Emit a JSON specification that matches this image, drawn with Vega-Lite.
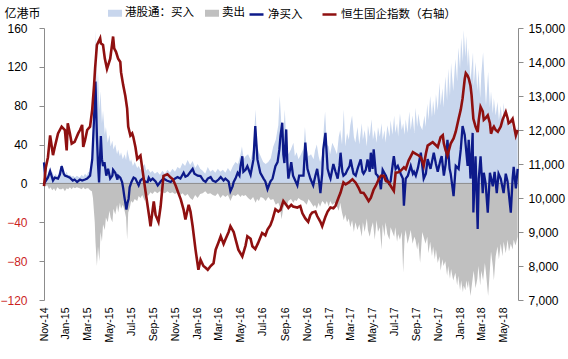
{
"$schema": "https://vega.github.io/schema/vega-lite/v6.json",
"width": 474, "height": 272,
"autosize": {"type": "none"},
"padding": {"left": 44, "top": 28, "right": 50, "bottom": 59},
"background": "white",
"config": {"font": "Liberation Sans, Noto Sans CJK SC", "view": {"stroke": null}, "axis": {"grid": false, "labelOverlap": false}},
"datasets": {
"flow": [
{"d":"2014-11-17","b":22,"s":-2},{"d":"2014-11-21","b":9,"s":-3},{"d":"2014-11-26","b":7,"s":-2},{"d":"2014-12-01","b":14,"s":-6},{"d":"2014-12-05","b":8,"s":-4},{"d":"2014-12-10","b":12,"s":-7},{"d":"2014-12-15","b":7,"s":-5},{"d":"2014-12-19","b":10,"s":-8},{"d":"2014-12-24","b":7,"s":-4},{"d":"2014-12-30","b":13,"s":-6},
{"d":"2015-01-05","b":20,"s":-6},{"d":"2015-01-09","b":11,"s":-5},{"d":"2015-01-14","b":9,"s":-8},{"d":"2015-01-19","b":12,"s":-5},{"d":"2015-01-23","b":8,"s":-6},{"d":"2015-01-28","b":9,"s":-4},{"d":"2015-02-02","b":7,"s":-6},{"d":"2015-02-06","b":8,"s":-4},{"d":"2015-02-11","b":6,"s":-5},{"d":"2015-02-16","b":8,"s":-4},{"d":"2015-02-24","b":6,"s":-5},{"d":"2015-03-02","b":9,"s":-6},{"d":"2015-03-06","b":7,"s":-4},{"d":"2015-03-11","b":10,"s":-6},{"d":"2015-03-16","b":8,"s":-5},{"d":"2015-03-20","b":12,"s":-5},{"d":"2015-03-25","b":11,"s":-7},{"d":"2015-03-30","b":22,"s":-8},
{"d":"2015-04-02","b":55,"s":-15},{"d":"2015-04-07","b":110,"s":-40},{"d":"2015-04-09","b":158,"s":-60},{"d":"2015-04-13","b":95,"s":-85},{"d":"2015-04-16","b":115,"s":-65},{"d":"2015-04-20","b":75,"s":-80},{"d":"2015-04-23","b":95,"s":-50},{"d":"2015-04-27","b":62,"s":-60},{"d":"2015-04-30","b":75,"s":-42},{"d":"2015-05-05","b":50,"s":-48},{"d":"2015-05-08","b":58,"s":-35},{"d":"2015-05-13","b":42,"s":-40},{"d":"2015-05-18","b":50,"s":-28},{"d":"2015-05-21","b":38,"s":-35},{"d":"2015-05-26","b":44,"s":-40},{"d":"2015-05-29","b":35,"s":-26},
{"d":"2015-06-03","b":40,"s":-32},{"d":"2015-06-08","b":30,"s":-22},{"d":"2015-06-11","b":35,"s":-30},{"d":"2015-06-16","b":28,"s":-20},{"d":"2015-06-19","b":32,"s":-26},{"d":"2015-06-24","b":25,"s":-22},{"d":"2015-06-29","b":30,"s":-28},{"d":"2015-07-03","b":24,"s":-35},{"d":"2015-07-06","b":35,"s":-58},{"d":"2015-07-09","b":30,"s":-30},{"d":"2015-07-14","b":22,"s":-24},{"d":"2015-07-17","b":25,"s":-18},{"d":"2015-07-22","b":18,"s":-20},{"d":"2015-07-27","b":22,"s":-16},
{"d":"2015-08-03","b":16,"s":-18},{"d":"2015-08-07","b":18,"s":-13},{"d":"2015-08-12","b":14,"s":-15},{"d":"2015-08-17","b":17,"s":-12},{"d":"2015-08-24","b":20,"s":-18},{"d":"2015-08-28","b":13,"s":-11},{"d":"2015-09-02","b":15,"s":-13},{"d":"2015-09-09","b":11,"s":-9},{"d":"2015-09-14","b":13,"s":-11},{"d":"2015-09-21","b":10,"s":-8},{"d":"2015-09-28","b":12,"s":-10},{"d":"2015-10-05","b":9,"s":-8},{"d":"2015-10-12","b":13,"s":-9},{"d":"2015-10-19","b":10,"s":-10},{"d":"2015-10-26","b":14,"s":-8},
{"d":"2015-11-02","b":11,"s":-10},{"d":"2015-11-09","b":15,"s":-9},{"d":"2015-11-16","b":12,"s":-11},{"d":"2015-11-23","b":17,"s":-9},{"d":"2015-11-30","b":15,"s":-12},{"d":"2015-12-07","b":21,"s":-10},{"d":"2015-12-14","b":18,"s":-13},{"d":"2015-12-21","b":24,"s":-11},{"d":"2015-12-28","b":19,"s":-15},
{"d":"2016-01-04","b":23,"s":-17},{"d":"2016-01-11","b":16,"s":-12},{"d":"2016-01-18","b":20,"s":-15},{"d":"2016-01-25","b":15,"s":-11},{"d":"2016-02-01","b":13,"s":-10},{"d":"2016-02-08","b":10,"s":-8},{"d":"2016-02-15","b":17,"s":-11},{"d":"2016-02-22","b":12,"s":-10},{"d":"2016-02-29","b":14,"s":-12},{"d":"2016-03-07","b":11,"s":-13},{"d":"2016-03-14","b":15,"s":-10},{"d":"2016-03-21","b":12,"s":-15},{"d":"2016-03-28","b":14,"s":-12},{"d":"2016-04-04","b":11,"s":-14},{"d":"2016-04-11","b":16,"s":-12},{"d":"2016-04-18","b":12,"s":-18},{"d":"2016-04-25","b":18,"s":-12},
{"d":"2016-05-02","b":22,"s":-13},{"d":"2016-05-09","b":20,"s":-11},{"d":"2016-05-16","b":30,"s":-14},{"d":"2016-05-20","b":38,"s":-12},{"d":"2016-05-25","b":25,"s":-13},{"d":"2016-05-30","b":28,"s":-12},{"d":"2016-06-06","b":30,"s":-15},{"d":"2016-06-13","b":24,"s":-17},{"d":"2016-06-20","b":35,"s":-14},{"d":"2016-06-27","b":76,"s":-20},{"d":"2016-07-01","b":40,"s":-16},{"d":"2016-07-06","b":32,"s":-18},{"d":"2016-07-11","b":28,"s":-14},{"d":"2016-07-18","b":22,"s":-15},{"d":"2016-07-25","b":20,"s":-18},
{"d":"2016-08-01","b":22,"s":-14},{"d":"2016-08-08","b":26,"s":-17},{"d":"2016-08-15","b":38,"s":-16},{"d":"2016-08-22","b":45,"s":-22},{"d":"2016-08-29","b":60,"s":-20},{"d":"2016-09-02","b":90,"s":-24},{"d":"2016-09-07","b":58,"s":-37},{"d":"2016-09-12","b":50,"s":-25},{"d":"2016-09-16","b":76,"s":-22},{"d":"2016-09-21","b":38,"s":-24},{"d":"2016-09-26","b":30,"s":-18},{"d":"2016-10-03","b":35,"s":-16},{"d":"2016-10-10","b":42,"s":-20},{"d":"2016-10-14","b":28,"s":-17},{"d":"2016-10-19","b":32,"s":-18},{"d":"2016-10-24","b":25,"s":-15},{"d":"2016-10-31","b":30,"s":-17},
{"d":"2016-11-07","b":36,"s":-18},{"d":"2016-11-11","b":58,"s":-20},{"d":"2016-11-16","b":35,"s":-22},{"d":"2016-11-21","b":28,"s":-16},{"d":"2016-11-28","b":30,"s":-20},{"d":"2016-12-05","b":25,"s":-24},{"d":"2016-12-09","b":34,"s":-22},{"d":"2016-12-14","b":40,"s":-26},{"d":"2016-12-19","b":28,"s":-20},{"d":"2016-12-23","b":22,"s":-24},{"d":"2016-12-29","b":30,"s":-18},
{"d":"2017-01-03","b":60,"s":-20},{"d":"2017-01-06","b":74,"s":-22},{"d":"2017-01-11","b":40,"s":-18},{"d":"2017-01-16","b":38,"s":-24},{"d":"2017-01-20","b":30,"s":-18},{"d":"2017-01-26","b":42,"s":-22},{"d":"2017-02-02","b":36,"s":-20},{"d":"2017-02-08","b":30,"s":-24},{"d":"2017-02-13","b":48,"s":-28},{"d":"2017-02-17","b":55,"s":-20},{"d":"2017-02-22","b":40,"s":-30},{"d":"2017-02-27","b":76,"s":-38},{"d":"2017-03-03","b":38,"s":-32},{"d":"2017-03-08","b":52,"s":-40},{"d":"2017-03-13","b":45,"s":-36},{"d":"2017-03-17","b":60,"s":-45},{"d":"2017-03-22","b":70,"s":-38},{"d":"2017-03-27","b":48,"s":-50},{"d":"2017-03-31","b":42,"s":-40},
{"d":"2017-04-06","b":58,"s":-48},{"d":"2017-04-11","b":40,"s":-42},{"d":"2017-04-18","b":62,"s":-55},{"d":"2017-04-21","b":45,"s":-40},{"d":"2017-04-26","b":55,"s":-50},{"d":"2017-05-02","b":38,"s":-36},{"d":"2017-05-05","b":60,"s":-48},{"d":"2017-05-10","b":48,"s":-55},{"d":"2017-05-15","b":66,"s":-45},{"d":"2017-05-19","b":45,"s":-40},{"d":"2017-05-24","b":55,"s":-58},{"d":"2017-05-29","b":42,"s":-38},
{"d":"2017-06-02","b":58,"s":-50},{"d":"2017-06-07","b":48,"s":-45},{"d":"2017-06-12","b":62,"s":-68},{"d":"2017-06-15","b":45,"s":-42},{"d":"2017-06-20","b":55,"s":-55},{"d":"2017-06-23","b":42,"s":-40},{"d":"2017-06-28","b":60,"s":-52},{"d":"2017-07-04","b":48,"s":-58},{"d":"2017-07-07","b":65,"s":-45},{"d":"2017-07-12","b":50,"s":-50},{"d":"2017-07-17","b":70,"s":-55},{"d":"2017-07-20","b":52,"s":-45},{"d":"2017-07-25","b":62,"s":-60},{"d":"2017-07-28","b":48,"s":-52},
{"d":"2017-08-02","b":72,"s":-58},{"d":"2017-08-07","b":55,"s":-50},{"d":"2017-08-11","b":62,"s":-92},{"d":"2017-08-15","b":50,"s":-55},{"d":"2017-08-18","b":66,"s":-48},{"d":"2017-08-23","b":52,"s":-62},{"d":"2017-08-28","b":74,"s":-55},{"d":"2017-09-01","b":55,"s":-48},{"d":"2017-09-06","b":70,"s":-62},{"d":"2017-09-11","b":52,"s":-55},{"d":"2017-09-14","b":78,"s":-58},{"d":"2017-09-19","b":58,"s":-68},{"d":"2017-09-22","b":72,"s":-60},{"d":"2017-09-27","b":60,"s":-82},
{"d":"2017-10-03","b":55,"s":-50},{"d":"2017-10-09","b":70,"s":-58},{"d":"2017-10-12","b":58,"s":-62},{"d":"2017-10-17","b":82,"s":-55},{"d":"2017-10-20","b":65,"s":-72},{"d":"2017-10-25","b":90,"s":-60},{"d":"2017-10-30","b":68,"s":-75},{"d":"2017-11-02","b":85,"s":-65},{"d":"2017-11-07","b":70,"s":-78},{"d":"2017-11-10","b":92,"s":-68},{"d":"2017-11-15","b":75,"s":-82},{"d":"2017-11-20","b":104,"s":-75},{"d":"2017-11-23","b":80,"s":-90},{"d":"2017-11-28","b":98,"s":-78},
{"d":"2017-12-01","b":78,"s":-85},{"d":"2017-12-06","b":110,"s":-80},{"d":"2017-12-11","b":85,"s":-95},{"d":"2017-12-14","b":118,"s":-85},{"d":"2017-12-19","b":90,"s":-98},{"d":"2017-12-22","b":124,"s":-88},{"d":"2017-12-28","b":95,"s":-100},
{"d":"2018-01-03","b":128,"s":-92},{"d":"2018-01-08","b":105,"s":-105},{"d":"2018-01-11","b":140,"s":-95},{"d":"2018-01-16","b":118,"s":-110},{"d":"2018-01-19","b":150,"s":-100},{"d":"2018-01-24","b":125,"s":-112},{"d":"2018-01-26","b":158,"s":-105},{"d":"2018-01-31","b":130,"s":-110},{"d":"2018-02-02","b":152,"s":-100},{"d":"2018-02-07","b":120,"s":-108},{"d":"2018-02-09","b":140,"s":-100},{"d":"2018-02-14","b":105,"s":-116},{"d":"2018-02-21","b":135,"s":-95},{"d":"2018-02-23","b":100,"s":-90},{"d":"2018-02-28","b":125,"s":-108},
{"d":"2018-03-05","b":95,"s":-98},{"d":"2018-03-08","b":117,"s":-85},{"d":"2018-03-13","b":88,"s":-105},{"d":"2018-03-16","b":112,"s":-90},{"d":"2018-03-21","b":135,"s":-100},{"d":"2018-03-26","b":100,"s":-82},{"d":"2018-03-29","b":80,"s":-92},{"d":"2018-04-04","b":115,"s":-116},{"d":"2018-04-09","b":78,"s":-88},{"d":"2018-04-12","b":95,"s":-70},{"d":"2018-04-17","b":72,"s":-85},{"d":"2018-04-20","b":88,"s":-100},{"d":"2018-04-25","b":70,"s":-75},{"d":"2018-04-30","b":84,"s":-65},
{"d":"2018-05-04","b":65,"s":-78},{"d":"2018-05-09","b":80,"s":-62},{"d":"2018-05-14","b":62,"s":-75},{"d":"2018-05-17","b":83,"s":-60},{"d":"2018-05-23","b":60,"s":-72},{"d":"2018-05-28","b":70,"s":-58},{"d":"2018-06-01","b":58,"s":-70},{"d":"2018-06-06","b":68,"s":-62},{"d":"2018-06-11","b":55,"s":-68},{"d":"2018-06-14","b":62,"s":-58},{"d":"2018-06-19","b":52,"s":-64},{"d":"2018-06-25","b":58,"s":-55}
],
"net": [
{"d":"2014-11-17","v":21.6},{"d":"2014-11-21","v":2},{"d":"2014-11-28","v":6},{"d":"2014-12-04","v":12.7},{"d":"2014-12-12","v":3},{"d":"2014-12-17","v":6},{"d":"2014-12-26","v":5},{"d":"2014-12-31","v":9},{"d":"2015-01-05","v":17.8},{"d":"2015-01-11","v":10},{"d":"2015-01-14","v":8},{"d":"2015-01-22","v":7},{"d":"2015-01-28","v":6},{"d":"2015-02-05","v":3},{"d":"2015-02-10","v":4},{"d":"2015-02-17","v":1.5},{"d":"2015-02-25","v":4},{"d":"2015-03-03","v":3},{"d":"2015-03-11","v":4},{"d":"2015-03-17","v":5},{"d":"2015-03-25","v":8},{"d":"2015-03-31","v":24.7},{"d":"2015-04-05","v":66},{"d":"2015-04-09","v":105},{"d":"2015-04-13","v":48.7},{"d":"2015-04-16","v":20},{"d":"2015-04-19","v":1},{"d":"2015-04-24","v":48.7},{"d":"2015-04-27","v":25},{"d":"2015-04-30","v":17.8},{"d":"2015-05-04","v":22},{"d":"2015-05-09","v":8},{"d":"2015-05-14","v":15},{"d":"2015-05-20","v":5},{"d":"2015-05-26","v":8},{"d":"2015-05-28","v":14},{"d":"2015-06-03","v":11},{"d":"2015-06-09","v":4},{"d":"2015-06-11","v":8},{"d":"2015-06-17","v":6},{"d":"2015-06-22","v":1.5},{"d":"2015-06-25","v":-5},{"d":"2015-06-28","v":-13},{"d":"2015-07-04","v":-26.8},{"d":"2015-07-07","v":-20},{"d":"2015-07-10","v":-16},{"d":"2015-07-13","v":-4},{"d":"2015-07-18","v":1.5},{"d":"2015-07-24","v":6},{"d":"2015-07-29","v":5},{"d":"2015-08-07","v":-2},{"d":"2015-08-12","v":3},{"d":"2015-08-18","v":5},{"d":"2015-08-26","v":1.5},{"d":"2015-09-01","v":1.5},{"d":"2015-09-04","v":6},{"d":"2015-09-09","v":3},{"d":"2015-09-15","v":5},{"d":"2015-09-23","v":2},{"d":"2015-09-29","v":-2},{"d":"2015-10-07","v":2},{"d":"2015-10-15","v":5},{"d":"2015-10-24","v":3},{"d":"2015-11-04","v":1.5},{"d":"2015-11-12","v":4},{"d":"2015-11-23","v":6.5},{"d":"2015-12-01","v":5},{"d":"2015-12-10","v":11},{"d":"2015-12-15","v":7},{"d":"2015-12-21","v":8},{"d":"2015-12-29","v":12},
{"d":"2016-01-04","v":15},{"d":"2016-01-09","v":10},{"d":"2016-01-18","v":8},{"d":"2016-01-26","v":7.5},{"d":"2016-02-03","v":3},{"d":"2016-02-09","v":1.5},{"d":"2016-02-15","v":5},{"d":"2016-02-23","v":6.5},{"d":"2016-02-29","v":3},{"d":"2016-03-08","v":1.5},{"d":"2016-03-16","v":4},{"d":"2016-03-22","v":6.5},{"d":"2016-03-30","v":3},{"d":"2016-04-04","v":5},{"d":"2016-04-13","v":2},{"d":"2016-04-18","v":-8},{"d":"2016-04-24","v":-3},{"d":"2016-04-27","v":1.5},{"d":"2016-05-02","v":5},{"d":"2016-05-08","v":11},{"d":"2016-05-13","v":8},{"d":"2016-05-16","v":17.8},{"d":"2016-05-21","v":28},{"d":"2016-05-24","v":12},{"d":"2016-05-30","v":14},{"d":"2016-06-04","v":17.8},{"d":"2016-06-13","v":9},{"d":"2016-06-21","v":24.7},{"d":"2016-06-26","v":59},{"d":"2016-07-02","v":24.7},{"d":"2016-07-10","v":11},{"d":"2016-07-19","v":5},{"d":"2016-07-24","v":2},{"d":"2016-07-30","v":-6},{"d":"2016-08-07","v":2},{"d":"2016-08-13","v":5},{"d":"2016-08-21","v":17.8},{"d":"2016-08-27","v":22},{"d":"2016-09-01","v":35},{"d":"2016-09-04","v":48.7},{"d":"2016-09-09","v":62.5},{"d":"2016-09-12","v":30},{"d":"2016-09-15","v":21},{"d":"2016-09-20","v":55.6},{"d":"2016-09-23","v":22},{"d":"2016-09-26","v":5},{"d":"2016-10-01","v":15},{"d":"2016-10-04","v":22},{"d":"2016-10-09","v":8},{"d":"2016-10-15","v":3},{"d":"2016-10-21","v":-2},{"d":"2016-10-26","v":8},{"d":"2016-11-01","v":8},{"d":"2016-11-07","v":8},{"d":"2016-11-12","v":42},{"d":"2016-11-18","v":15},{"d":"2016-11-26","v":5},{"d":"2016-12-04","v":-2},{"d":"2016-12-10","v":8},{"d":"2016-12-15","v":15},{"d":"2016-12-21","v":0},{"d":"2016-12-24","v":-10},{"d":"2016-12-29","v":10},
{"d":"2017-01-01","v":35},{"d":"2017-01-07","v":52},{"d":"2017-01-13","v":15},{"d":"2017-01-18","v":8},{"d":"2017-01-21","v":5},{"d":"2017-01-29","v":20},{"d":"2017-02-04","v":12},{"d":"2017-02-10","v":5},{"d":"2017-02-15","v":18},{"d":"2017-02-18","v":31.6},{"d":"2017-02-23","v":12},{"d":"2017-02-26","v":8},{"d":"2017-03-04","v":10},{"d":"2017-03-09","v":14},{"d":"2017-03-15","v":18},{"d":"2017-03-18","v":24.7},{"d":"2017-03-23","v":15},{"d":"2017-03-26","v":10},{"d":"2017-04-01","v":8},{"d":"2017-04-07","v":16},{"d":"2017-04-15","v":24.7},{"d":"2017-04-20","v":12},{"d":"2017-04-23","v":10},{"d":"2017-04-29","v":14},{"d":"2017-05-04","v":24.7},{"d":"2017-05-10","v":12},{"d":"2017-05-13","v":31.6},{"d":"2017-05-18","v":15},{"d":"2017-05-21","v":35},{"d":"2017-05-27","v":10},{"d":"2017-06-01","v":8},{"d":"2017-06-07","v":2},{"d":"2017-06-10","v":-6},{"d":"2017-06-15","v":14},{"d":"2017-06-21","v":10},{"d":"2017-06-24","v":8},{"d":"2017-07-02","v":0},{"d":"2017-07-07","v":2},{"d":"2017-07-13","v":20},{"d":"2017-07-16","v":28},{"d":"2017-07-21","v":15},{"d":"2017-07-27","v":18},{"d":"2017-08-04","v":10},{"d":"2017-08-10","v":5},{"d":"2017-08-13","v":-23},{"d":"2017-08-18","v":5},{"d":"2017-08-24","v":8},{"d":"2017-09-01","v":18},{"d":"2017-09-07","v":10},{"d":"2017-09-10","v":12},{"d":"2017-09-15","v":8},{"d":"2017-09-21","v":16},{"d":"2017-09-29","v":31.6},{"d":"2017-10-04","v":15},{"d":"2017-10-07","v":5},{"d":"2017-10-13","v":10},{"d":"2017-10-18","v":25},{"d":"2017-10-26","v":15},{"d":"2017-11-04","v":31.6},{"d":"2017-11-10","v":20},{"d":"2017-11-15","v":12},{"d":"2017-11-23","v":24.7},{"d":"2017-11-26","v":28},{"d":"2017-12-02","v":8},{"d":"2017-12-07","v":20},{"d":"2017-12-12","v":45},{"d":"2017-12-18","v":15},{"d":"2017-12-21","v":10},{"d":"2017-12-29","v":-13},
{"d":"2018-01-04","v":18},{"d":"2018-01-12","v":15},{"d":"2018-01-18","v":35},{"d":"2018-01-23","v":59},{"d":"2018-01-29","v":50},{"d":"2018-02-03","v":30},{"d":"2018-02-06","v":18},{"d":"2018-02-09","v":45},{"d":"2018-02-14","v":5},{"d":"2018-02-20","v":52},{"d":"2018-02-22","v":-30},{"d":"2018-02-28","v":28},{"d":"2018-03-06","v":-47},{"d":"2018-03-09","v":5},{"d":"2018-03-14","v":28},{"d":"2018-03-20","v":-10},{"d":"2018-03-23","v":11},{"d":"2018-03-28","v":0},{"d":"2018-04-03","v":-30},{"d":"2018-04-09","v":11},{"d":"2018-04-17","v":-3},{"d":"2018-04-22","v":12},{"d":"2018-04-28","v":-10},{"d":"2018-05-03","v":10},{"d":"2018-05-09","v":5},{"d":"2018-05-17","v":-10},{"d":"2018-05-23","v":10},{"d":"2018-05-28","v":2},{"d":"2018-06-06","v":-30},{"d":"2018-06-11","v":5},{"d":"2018-06-14","v":17},{"d":"2018-06-20","v":-5},{"d":"2018-06-25","v":15}
],
"idx": [
{"d":"2014-11-17","h":10350},{"d":"2014-11-22","h":10900},{"d":"2014-11-28","h":11200},{"d":"2014-12-04","h":11840},{"d":"2014-12-06","h":11700},{"d":"2014-12-12","h":11260},{"d":"2014-12-17","h":11500},{"d":"2014-12-26","h":11900},{"d":"2014-12-31","h":12000},{"d":"2015-01-05","h":12100},{"d":"2015-01-14","h":12000},{"d":"2015-01-19","h":11400},{"d":"2015-01-22","h":12200},{"d":"2015-01-28","h":11900},{"d":"2015-02-02","h":11600},{"d":"2015-02-10","h":11650},{"d":"2015-02-20","h":11900},{"d":"2015-02-25","h":12000},{"d":"2015-03-03","h":12150},{"d":"2015-03-06","h":11500},{"d":"2015-03-11","h":11700},{"d":"2015-03-17","h":12000},{"d":"2015-03-25","h":12100},{"d":"2015-03-31","h":12600},{"d":"2015-04-05","h":13300},{"d":"2015-04-08","h":13815},{"d":"2015-04-13","h":14500},{"d":"2015-04-22","h":14700},{"d":"2015-04-24","h":14550},{"d":"2015-04-30","h":14500},{"d":"2015-05-05","h":14100},{"d":"2015-05-11","h":13800},{"d":"2015-05-20","h":14100},{"d":"2015-05-28","h":14750},{"d":"2015-05-31","h":14400},{"d":"2015-06-05","h":14300},{"d":"2015-06-11","h":14100},{"d":"2015-06-17","h":14000},{"d":"2015-06-19","h":13700},{"d":"2015-06-25","h":13320},{"d":"2015-07-01","h":13000},{"d":"2015-07-06","h":12630},{"d":"2015-07-09","h":12100},{"d":"2015-07-15","h":11840},{"d":"2015-07-20","h":11900},{"d":"2015-07-23","h":11800},{"d":"2015-07-29","h":11500},{"d":"2015-08-03","h":11150},{"d":"2015-08-12","h":11250},{"d":"2015-08-20","h":10650},{"d":"2015-08-26","h":10200},{"d":"2015-09-01","h":9760},{"d":"2015-09-06","h":9400},{"d":"2015-09-09","h":9170},{"d":"2015-09-18","h":9900},{"d":"2015-09-23","h":9500},{"d":"2015-10-01","h":9300},{"d":"2015-10-07","h":9750},{"d":"2015-10-15","h":10650},{"d":"2015-10-26","h":10700},{"d":"2015-11-04","h":10600},{"d":"2015-11-10","h":10550},{"d":"2015-11-18","h":10360},{"d":"2015-11-27","h":10100},{"d":"2015-12-02","h":9960},{"d":"2015-12-10","h":9650},{"d":"2015-12-15","h":9370},{"d":"2015-12-24","h":9800},{"d":"2015-12-29","h":9600},
{"d":"2016-01-04","h":9170},{"d":"2016-01-12","h":8480},{"d":"2016-01-20","h":7890},{"d":"2016-01-26","h":8180},{"d":"2016-02-03","h":8000},{"d":"2016-02-09","h":7950},{"d":"2016-02-15","h":7890},{"d":"2016-02-23","h":8000},{"d":"2016-03-02","h":8080},{"d":"2016-03-08","h":8480},{"d":"2016-03-16","h":8700},{"d":"2016-03-22","h":8875},{"d":"2016-03-30","h":8650},{"d":"2016-04-04","h":8780},{"d":"2016-04-13","h":9000},{"d":"2016-04-18","h":9170},{"d":"2016-04-27","h":9000},{"d":"2016-05-02","h":8800},{"d":"2016-05-10","h":8480},{"d":"2016-05-21","h":8280},{"d":"2016-05-30","h":8600},{"d":"2016-06-04","h":8875},{"d":"2016-06-13","h":8800},{"d":"2016-06-18","h":8580},{"d":"2016-06-26","h":8500},{"d":"2016-07-04","h":8680},{"d":"2016-07-15","h":8970},{"d":"2016-07-24","h":8900},{"d":"2016-07-30","h":9070},{"d":"2016-08-07","h":9200},{"d":"2016-08-13","h":9370},{"d":"2016-08-21","h":9670},{"d":"2016-08-29","h":9600},{"d":"2016-09-04","h":9650},{"d":"2016-09-12","h":9910},{"d":"2016-09-20","h":9800},{"d":"2016-09-26","h":9710},{"d":"2016-10-04","h":9800},{"d":"2016-10-09","h":9750},{"d":"2016-10-21","h":9720},{"d":"2016-10-29","h":9760},{"d":"2016-11-04","h":9550},{"d":"2016-11-12","h":9400},{"d":"2016-11-20","h":9300},{"d":"2016-11-26","h":9500},{"d":"2016-12-01","h":9570},{"d":"2016-12-10","h":9600},{"d":"2016-12-15","h":9470},{"d":"2016-12-24","h":9300},{"d":"2016-12-29","h":9170},
{"d":"2017-01-07","h":9450},{"d":"2017-01-13","h":9600},{"d":"2017-01-21","h":9720},{"d":"2017-01-29","h":9700},{"d":"2017-02-04","h":9770},{"d":"2017-02-12","h":10000},{"d":"2017-02-18","h":10160},{"d":"2017-02-26","h":10460},{"d":"2017-03-04","h":10400},{"d":"2017-03-12","h":10450},{"d":"2017-03-23","h":10550},{"d":"2017-04-01","h":10450},{"d":"2017-04-09","h":10300},{"d":"2017-04-15","h":10160},{"d":"2017-04-23","h":10150},{"d":"2017-04-29","h":10050},{"d":"2017-05-07","h":9910},{"d":"2017-05-13","h":10000},{"d":"2017-05-21","h":10250},{"d":"2017-05-27","h":10360},{"d":"2017-06-04","h":10550},{"d":"2017-06-10","h":10650},{"d":"2017-06-18","h":10650},{"d":"2017-06-24","h":10500},{"d":"2017-07-02","h":10460},{"d":"2017-07-07","h":10360},{"d":"2017-07-16","h":10210},{"d":"2017-07-21","h":10750},{"d":"2017-07-27","h":10750},{"d":"2017-08-04","h":10800},{"d":"2017-08-13","h":10900},{"d":"2017-08-18","h":10850},{"d":"2017-08-26","h":11100},{"d":"2017-09-07","h":11350},{"d":"2017-09-15","h":11300},{"d":"2017-09-23","h":11250},{"d":"2017-09-29","h":11200},{"d":"2017-10-07","h":10950},{"d":"2017-10-13","h":11300},{"d":"2017-10-18","h":11540},{"d":"2017-10-26","h":11600},{"d":"2017-11-01","h":11640},{"d":"2017-11-10","h":11550},{"d":"2017-11-15","h":11500},{"d":"2017-11-23","h":11790},{"d":"2017-11-29","h":11850},{"d":"2017-12-02","h":11600},{"d":"2017-12-07","h":11400},{"d":"2017-12-12","h":11250},{"d":"2017-12-21","h":11600},{"d":"2017-12-29","h":11750},
{"d":"2018-01-04","h":11950},{"d":"2018-01-12","h":12330},{"d":"2018-01-18","h":12600},{"d":"2018-01-23","h":12930},{"d":"2018-01-29","h":13500},{"d":"2018-02-01","h":13670},{"d":"2018-02-06","h":13600},{"d":"2018-02-09","h":13520},{"d":"2018-02-14","h":13300},{"d":"2018-02-17","h":13025},{"d":"2018-02-22","h":12330},{"d":"2018-02-28","h":12100},{"d":"2018-03-06","h":11940},{"d":"2018-03-09","h":12300},{"d":"2018-03-14","h":12680},{"d":"2018-03-20","h":12550},{"d":"2018-03-23","h":12300},{"d":"2018-03-28","h":12350},{"d":"2018-04-03","h":12430},{"d":"2018-04-09","h":12200},{"d":"2018-04-12","h":11890},{"d":"2018-04-17","h":12050},{"d":"2018-04-20","h":12100},{"d":"2018-04-25","h":12000},{"d":"2018-05-01","h":11950},{"d":"2018-05-09","h":12100},{"d":"2018-05-14","h":12300},{"d":"2018-05-23","h":12530},{"d":"2018-05-28","h":12350},{"d":"2018-05-31","h":12200},{"d":"2018-06-06","h":12250},{"d":"2018-06-11","h":12330},{"d":"2018-06-17","h":12000},{"d":"2018-06-20","h":11840},{"d":"2018-06-25","h":12000}
]
},
"layer": [
{"layer": [
 {"data": {"name": "flow"}, "mark": {"type": "area", "interpolate": "linear"},
  "encoding": {
   "x": {"field": "d", "type": "temporal", "scale": {"type": "utc", "domain": [{"year": 2014, "month": 11, "date": 17, "utc": true}, {"year": 2018, "month": 6, "date": 26, "utc": true}]},
     "axis": {"title": null, "labelExpr": "utcFormat(datum.value, '%b-%y')", "labelAngle": 270, "labelFontSize": 10.5, "labelColor": "#000000", "domain": false, "ticks": false, "labelPadding": 7, "labelOverlap": false, "labelFlush": false, "labelSeparation": 0, "grid": false,
       "values": [{"year":2014,"month":11,"date":17,"utc":true},{"year":2015,"month":1,"date":17,"utc":true},{"year":2015,"month":3,"date":17,"utc":true},{"year":2015,"month":5,"date":17,"utc":true},{"year":2015,"month":7,"date":17,"utc":true},{"year":2015,"month":9,"date":17,"utc":true},{"year":2015,"month":11,"date":17,"utc":true},{"year":2016,"month":1,"date":17,"utc":true},{"year":2016,"month":3,"date":17,"utc":true},{"year":2016,"month":5,"date":17,"utc":true},{"year":2016,"month":7,"date":17,"utc":true},{"year":2016,"month":9,"date":17,"utc":true},{"year":2016,"month":11,"date":17,"utc":true},{"year":2017,"month":1,"date":17,"utc":true},{"year":2017,"month":3,"date":17,"utc":true},{"year":2017,"month":5,"date":17,"utc":true},{"year":2017,"month":7,"date":17,"utc":true},{"year":2017,"month":9,"date":17,"utc":true},{"year":2017,"month":11,"date":17,"utc":true},{"year":2018,"month":1,"date":17,"utc":true},{"year":2018,"month":3,"date":17,"utc":true},{"year":2018,"month":5,"date":17,"utc":true}]}},
   "y": {"field": "b", "type": "quantitative", "scale": {"domain": [-120, 160], "nice": false, "zero": false},
     "axis": {"title": "亿港币", "titleAngle": 0, "titleAlign": "left", "titleBaseline": "middle", "titleX": -40, "titleY": -15, "titleFontSize": 12, "titleFontWeight": "normal", "titleFont": "Noto Sans CJK SC", "titleColor": "#000000",
       "values": [-120, -80, -40, 0, 40, 80, 120, 160], "labelExpr": "format(datum.value, 'd')", "labelOverlap": false, "labelSeparation": 0, "labelFontSize": 12, "labelColor": {"condition": {"test": "datum.value < 0", "value": "#cc1f1f"}, "value": "#000000"}, "domainColor": "#8c8c8c", "tickColor": "#8c8c8c", "tickSize": 5, "labelPadding": 12, "grid": false}},
   "fill": {"datum": "港股通：买入", "type": "nominal", "scale": {"domain": ["港股通：买入", "卖出"], "range": ["#c8d6ed", "#c0c0c0"]},
     "legend": {"orient": "none", "legendX": 64, "legendY": -22, "direction": "horizontal", "title": null, "symbolType": "M-1,-0.5H1V0.5H-1Z", "symbolSize": 196, "symbolStrokeWidth": 0, "labelFontSize": 11.5, "labelFont": "Noto Sans CJK SC", "labelColor": "#000000", "columnPadding": 11, "labelOffset": 3}}
  }},
 {"data": {"name": "flow"}, "mark": {"type": "area", "interpolate": "linear"},
  "encoding": {
   "x": {"field": "d", "type": "temporal", "scale": {"type": "utc", "domain": [{"year": 2014, "month": 11, "date": 17, "utc": true}, {"year": 2018, "month": 6, "date": 26, "utc": true}]},
     "axis": {"title": null, "labelExpr": "utcFormat(datum.value, '%b-%y')", "labelAngle": 270, "labelFontSize": 10.5, "labelColor": "#000000", "domain": false, "ticks": false, "labelPadding": 7, "labelOverlap": false, "labelFlush": false, "labelSeparation": 0, "grid": false,
       "values": [{"year":2014,"month":11,"date":17,"utc":true},{"year":2015,"month":1,"date":17,"utc":true},{"year":2015,"month":3,"date":17,"utc":true},{"year":2015,"month":5,"date":17,"utc":true},{"year":2015,"month":7,"date":17,"utc":true},{"year":2015,"month":9,"date":17,"utc":true},{"year":2015,"month":11,"date":17,"utc":true},{"year":2016,"month":1,"date":17,"utc":true},{"year":2016,"month":3,"date":17,"utc":true},{"year":2016,"month":5,"date":17,"utc":true},{"year":2016,"month":7,"date":17,"utc":true},{"year":2016,"month":9,"date":17,"utc":true},{"year":2016,"month":11,"date":17,"utc":true},{"year":2017,"month":1,"date":17,"utc":true},{"year":2017,"month":3,"date":17,"utc":true},{"year":2017,"month":5,"date":17,"utc":true},{"year":2017,"month":7,"date":17,"utc":true},{"year":2017,"month":9,"date":17,"utc":true},{"year":2017,"month":11,"date":17,"utc":true},{"year":2018,"month":1,"date":17,"utc":true},{"year":2018,"month":3,"date":17,"utc":true},{"year":2018,"month":5,"date":17,"utc":true}]}},
   "y": {"field": "s", "type": "quantitative", "scale": {"domain": [-120, 160], "nice": false, "zero": false},
     "axis": {"title": "亿港币", "titleAngle": 0, "titleAlign": "left", "titleBaseline": "middle", "titleX": -40, "titleY": -15, "titleFontSize": 12, "titleFontWeight": "normal", "titleFont": "Noto Sans CJK SC", "titleColor": "#000000",
       "values": [-120, -80, -40, 0, 40, 80, 120, 160], "labelExpr": "format(datum.value, 'd')", "labelOverlap": false, "labelSeparation": 0, "labelFontSize": 12, "labelColor": {"condition": {"test": "datum.value < 0", "value": "#cc1f1f"}, "value": "#000000"}, "domainColor": "#8c8c8c", "tickColor": "#8c8c8c", "tickSize": 5, "labelPadding": 12, "grid": false}},
   "fill": {"datum": "卖出", "type": "nominal"}
  }},
 {"data": {"values": [{}]}, "mark": {"type": "rule", "color": "#8c8c8c", "strokeWidth": 1},
  "encoding": {"y": {"datum": 0, "type": "quantitative", "scale": {"domain": [-120, 160], "nice": false, "zero": false},
     "axis": {"title": "亿港币", "titleAngle": 0, "titleAlign": "left", "titleBaseline": "middle", "titleX": -40, "titleY": -15, "titleFontSize": 12, "titleFontWeight": "normal", "titleFont": "Noto Sans CJK SC", "titleColor": "#000000",
       "values": [-120, -80, -40, 0, 40, 80, 120, 160], "labelExpr": "format(datum.value, 'd')", "labelOverlap": false, "labelSeparation": 0, "labelFontSize": 12, "labelColor": {"condition": {"test": "datum.value < 0", "value": "#cc1f1f"}, "value": "#000000"}, "domainColor": "#8c8c8c", "tickColor": "#8c8c8c", "tickSize": 5, "labelPadding": 12, "grid": false}}}},
 {"data": {"name": "net"}, "mark": {"type": "line", "strokeWidth": 2.3, "interpolate": "linear"},
  "encoding": {
   "x": {"field": "d", "type": "temporal", "scale": {"type": "utc", "domain": [{"year": 2014, "month": 11, "date": 17, "utc": true}, {"year": 2018, "month": 6, "date": 26, "utc": true}]},
     "axis": {"title": null, "labelExpr": "utcFormat(datum.value, '%b-%y')", "labelAngle": 270, "labelFontSize": 10.5, "labelColor": "#000000", "domain": false, "ticks": false, "labelPadding": 7, "labelOverlap": false, "labelFlush": false, "labelSeparation": 0, "grid": false,
       "values": [{"year":2014,"month":11,"date":17,"utc":true},{"year":2015,"month":1,"date":17,"utc":true},{"year":2015,"month":3,"date":17,"utc":true},{"year":2015,"month":5,"date":17,"utc":true},{"year":2015,"month":7,"date":17,"utc":true},{"year":2015,"month":9,"date":17,"utc":true},{"year":2015,"month":11,"date":17,"utc":true},{"year":2016,"month":1,"date":17,"utc":true},{"year":2016,"month":3,"date":17,"utc":true},{"year":2016,"month":5,"date":17,"utc":true},{"year":2016,"month":7,"date":17,"utc":true},{"year":2016,"month":9,"date":17,"utc":true},{"year":2016,"month":11,"date":17,"utc":true},{"year":2017,"month":1,"date":17,"utc":true},{"year":2017,"month":3,"date":17,"utc":true},{"year":2017,"month":5,"date":17,"utc":true},{"year":2017,"month":7,"date":17,"utc":true},{"year":2017,"month":9,"date":17,"utc":true},{"year":2017,"month":11,"date":17,"utc":true},{"year":2018,"month":1,"date":17,"utc":true},{"year":2018,"month":3,"date":17,"utc":true},{"year":2018,"month":5,"date":17,"utc":true}]}},
   "y": {"field": "v", "type": "quantitative", "scale": {"domain": [-120, 160], "nice": false, "zero": false},
     "axis": {"title": "亿港币", "titleAngle": 0, "titleAlign": "left", "titleBaseline": "middle", "titleX": -40, "titleY": -15, "titleFontSize": 12, "titleFontWeight": "normal", "titleFont": "Noto Sans CJK SC", "titleColor": "#000000",
       "values": [-120, -80, -40, 0, 40, 80, 120, 160], "labelExpr": "format(datum.value, 'd')", "labelOverlap": false, "labelSeparation": 0, "labelFontSize": 12, "labelColor": {"condition": {"test": "datum.value < 0", "value": "#cc1f1f"}, "value": "#000000"}, "domainColor": "#8c8c8c", "tickColor": "#8c8c8c", "tickSize": 5, "labelPadding": 12, "grid": false}},
   "stroke": {"datum": "净买入", "type": "nominal", "scale": {"domain": ["净买入", "恒生国企指数（右轴）"], "range": ["#0d1a8a", "#8f1010"]},
     "legend": {"orient": "none", "legendX": 204, "legendY": -22, "direction": "horizontal", "title": null, "symbolType": "stroke", "symbolSize": 196, "symbolStrokeWidth": 2.5, "labelFontSize": 11.5, "labelFont": "Noto Sans CJK SC", "labelColor": "#000000", "columnPadding": 14, "labelOffset": 3}}
  }}
]},
{"data": {"name": "idx"}, "mark": {"type": "line", "strokeWidth": 2.6, "interpolate": "linear"},
 "encoding": {
  "x": {"field": "d", "type": "temporal", "scale": {"type": "utc", "domain": [{"year": 2014, "month": 11, "date": 17, "utc": true}, {"year": 2018, "month": 6, "date": 26, "utc": true}]},
     "axis": {"title": null, "labelExpr": "utcFormat(datum.value, '%b-%y')", "labelAngle": 270, "labelFontSize": 10.5, "labelColor": "#000000", "domain": false, "ticks": false, "labelPadding": 7, "labelOverlap": false, "labelFlush": false, "labelSeparation": 0, "grid": false,
       "values": [{"year":2014,"month":11,"date":17,"utc":true},{"year":2015,"month":1,"date":17,"utc":true},{"year":2015,"month":3,"date":17,"utc":true},{"year":2015,"month":5,"date":17,"utc":true},{"year":2015,"month":7,"date":17,"utc":true},{"year":2015,"month":9,"date":17,"utc":true},{"year":2015,"month":11,"date":17,"utc":true},{"year":2016,"month":1,"date":17,"utc":true},{"year":2016,"month":3,"date":17,"utc":true},{"year":2016,"month":5,"date":17,"utc":true},{"year":2016,"month":7,"date":17,"utc":true},{"year":2016,"month":9,"date":17,"utc":true},{"year":2016,"month":11,"date":17,"utc":true},{"year":2017,"month":1,"date":17,"utc":true},{"year":2017,"month":3,"date":17,"utc":true},{"year":2017,"month":5,"date":17,"utc":true},{"year":2017,"month":7,"date":17,"utc":true},{"year":2017,"month":9,"date":17,"utc":true},{"year":2017,"month":11,"date":17,"utc":true},{"year":2018,"month":1,"date":17,"utc":true},{"year":2018,"month":3,"date":17,"utc":true},{"year":2018,"month":5,"date":17,"utc":true}]}},
  "y": {"field": "h", "type": "quantitative", "scale": {"domain": [7000, 15000], "nice": false, "zero": false},
    "axis": {"orient": "right", "title": null, "values": [7000, 8000, 9000, 10000, 11000, 12000, 13000, 14000, 15000], "labelExpr": "format(datum.value, ',')", "labelOverlap": false, "labelFontSize": 12, "labelColor": "#000000", "domainColor": "#8c8c8c", "tickColor": "#8c8c8c", "tickSize": 5, "labelPadding": 5, "grid": false}},
  "stroke": {"datum": "恒生国企指数（右轴）", "type": "nominal"}
 }}
],
"resolve": {"scale": {"y": "independent"}}
}
